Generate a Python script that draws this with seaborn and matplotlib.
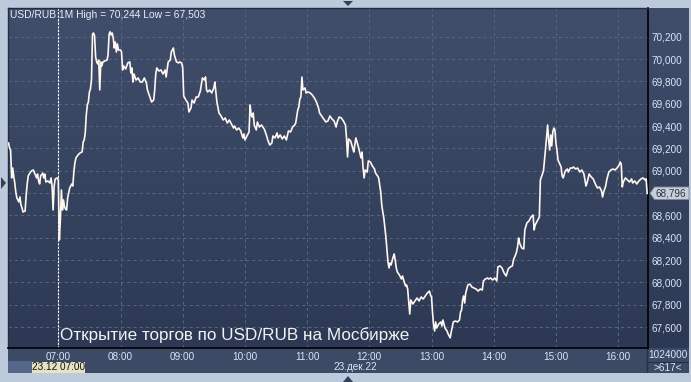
import numpy as np
import matplotlib
matplotlib.use("Agg")
import matplotlib.pyplot as plt
import seaborn as sns
from matplotlib.colors import LinearSegmentedColormap
from matplotlib.patches import Polygon, Rectangle
from matplotlib.ticker import FuncFormatter

# ---------------- data (minutes after 07:00, USD/RUB price) ----------------
minutes = [
    -48, -47, -46, -45, -44, -43, -42, -41, -40, -38,
    -37, -36, -35, -34, -32, -31, -30, -29, -28, -26,
    -24, -23, -22, -21, -20, -19, -18, -17, -15, -14,
    -13, -12, -10, -8, -7, -6, -5, -4, -3, -1,
    0, 1, 2, 3, 4, 5, 6, 7, 8, 9,
    11, 13, 14, 15, 16, 17, 19, 21, 23, 24,
    25, 26, 27, 28, 29, 30, 31, 32, 33, 34,
    35, 36, 37, 38, 39, 40, 41, 42, 43, 45,
    47, 48, 49, 50, 51, 52, 53, 54, 55, 56,
    57, 58, 60, 61, 62, 63, 65, 67, 69, 70,
    71, 72, 73, 75, 77, 79, 81, 83, 85, 86,
    88, 90, 92, 93, 94, 95, 97, 99, 101, 103,
    104, 106, 108, 109, 111, 112, 114, 116, 117, 119,
    120, 121, 123, 125, 126, 128, 129, 131, 133, 135,
    137, 139, 141, 142, 143, 144, 146, 148, 150, 151,
    153, 155, 157, 159, 161, 163, 165, 167, 169, 170,
    172, 174, 176, 178, 179, 180, 182, 184, 185, 186,
    187, 188, 189, 191, 192, 194, 196, 198, 199, 201,
    202, 204, 206, 207, 209, 211, 212, 214, 216, 218,
    220, 222, 224, 226, 228, 229, 231, 232, 233, 234,
    235, 236, 238, 239, 241, 243, 245, 247, 249, 251,
    252, 254, 256, 258, 260, 262, 264, 266, 268, 269,
    271, 273, 275, 277, 278, 279, 280, 282, 284, 285,
    287, 289, 290, 292, 293, 294, 295, 296, 298, 299,
    301, 303, 305, 306, 308, 309, 311, 312, 313, 314,
    315, 316, 317, 318, 319, 320, 321, 323, 324, 325,
    326, 327, 329, 331, 332, 334, 335, 336, 337, 338,
    339, 340, 342, 344, 346, 348, 350, 352, 354, 356,
    358, 359, 360, 361, 362, 363, 364, 365, 367, 369,
    370, 371, 373, 375, 376, 378, 379, 380, 381, 383,
    385, 387, 388, 389, 390, 391, 392, 393, 395, 397,
    399, 401, 403, 405, 407, 409, 410, 412, 414, 415,
    417, 419, 421, 423, 424, 426, 428, 430, 432, 434,
    436, 438, 439, 441, 442, 443, 444, 445, 447, 449,
    450, 452, 454, 456, 458, 459, 460, 462, 464, 465,
    466, 468, 469, 470, 471, 472, 473, 474, 475, 476,
    477, 478, 479, 480, 481, 482, 485, 486, 487, 489,
    491, 492, 494, 496, 497, 499, 501, 503, 505, 507,
    509, 510, 512, 514, 516, 518, 520, 522, 524, 525,
    526, 528, 529, 531, 533, 535, 537, 539, 541, 542,
    543, 544, 545, 547, 549, 551, 553, 554, 556, 558,
    560, 562, 564, 566, 567, 568,
]
prices = [
    69.248, 69.203, 69.185, 68.935, 69.024, 68.953, 68.890, 68.809, 68.756, 68.720,
    68.765, 68.693, 68.666, 68.630, 68.639, 68.782, 68.881, 68.953, 68.970, 68.997,
    69.006, 68.979, 68.961, 68.935, 68.970, 68.908, 68.881, 68.953, 68.979, 68.935,
    68.970, 68.899, 68.908, 68.890, 68.935, 68.863, 68.648, 68.863, 68.926, 68.935,
    68.917, 68.380, 68.559, 68.827, 68.648, 68.738, 68.675, 68.657, 68.648, 68.756,
    68.845, 68.881, 68.863, 68.988, 69.069, 69.114, 69.141, 69.159, 69.168, 69.257,
    69.275, 69.338, 69.499, 69.589, 69.615, 69.705, 69.732, 69.812, 70.224, 70.233,
    70.207, 70.018, 69.974, 69.956, 69.991, 69.723, 69.974, 69.938, 69.974, 69.983,
    69.991, 70.036, 70.224, 70.244, 70.215, 70.233, 70.189, 70.099, 70.153, 70.063,
    70.135, 70.081, 70.081, 70.063, 69.902, 69.938, 69.911, 69.965, 69.974, 69.875,
    69.920, 69.794, 69.866, 69.812, 69.830, 69.794, 69.794, 69.830, 69.785, 69.723,
    69.669, 69.615, 69.633, 69.723, 69.866, 69.920, 69.893, 69.902, 69.866, 69.902,
    69.839, 69.974, 69.991, 70.063, 70.099, 70.036, 69.974, 69.965, 69.974, 69.965,
    69.920, 69.669, 69.633, 69.606, 69.526, 69.562, 69.633, 69.606, 69.660, 69.660,
    69.714, 69.830, 69.812, 69.839, 69.723, 69.705, 69.723, 69.696, 69.741, 69.794,
    69.615, 69.517, 69.490, 69.454, 69.472, 69.427, 69.454, 69.418, 69.382, 69.400,
    69.365, 69.382, 69.356, 69.293, 69.329, 69.275, 69.311, 69.347, 69.589, 69.499,
    69.481, 69.517, 69.409, 69.365, 69.436, 69.391, 69.409, 69.382, 69.365, 69.311,
    69.275, 69.230, 69.248, 69.311, 69.293, 69.338, 69.293, 69.320, 69.284, 69.311,
    69.275, 69.356, 69.347, 69.391, 69.409, 69.427, 69.544, 69.571, 69.642, 69.660,
    69.839, 69.723, 69.741, 69.696, 69.705, 69.696, 69.678, 69.651, 69.615, 69.562,
    69.517, 69.490, 69.463, 69.436, 69.445, 69.490, 69.463, 69.445, 69.391, 69.436,
    69.481, 69.472, 69.445, 69.409, 69.293, 69.123, 69.284, 69.266, 69.203, 69.167,
    69.293, 69.230, 69.194, 69.114, 69.167, 69.024, 68.935, 69.006, 68.988, 69.087,
    69.078, 69.042, 69.015, 68.979, 68.953, 68.935, 68.809, 68.693, 68.630, 68.576,
    68.487, 68.406, 68.290, 68.182, 68.129, 68.173, 68.156, 68.227, 68.254, 68.200,
    68.129, 68.093, 68.066, 68.030, 68.057, 67.994, 67.967, 67.976, 67.940, 67.824,
    67.716, 67.842, 67.806, 67.833, 67.860, 67.833, 67.869, 67.851, 67.878, 67.905,
    67.922, 67.887, 67.869, 67.726, 67.618, 67.564, 67.645, 67.591, 67.627, 67.645,
    67.609, 67.663, 67.591, 67.564, 67.538, 67.503, 67.555, 67.600, 67.645, 67.654,
    67.645, 67.663, 67.734, 67.752, 67.842, 67.878, 67.815, 67.905, 67.976, 67.985,
    67.958, 67.949, 67.940, 67.922, 67.940, 67.931, 68.012, 68.030, 68.039, 68.030,
    68.039, 68.021, 68.039, 68.012, 68.138, 68.147, 68.129, 68.084, 68.057, 68.120,
    68.138, 68.147, 68.200, 68.245, 68.272, 68.317, 68.397, 68.352, 68.308, 68.299,
    68.469, 68.532, 68.550, 68.585, 68.603, 68.469, 68.514, 68.550, 68.585, 68.917,
    68.944, 68.997, 69.096, 69.185, 69.300, 69.409, 69.275, 69.185, 69.320, 69.221,
    69.347, 69.382, 69.365, 69.248, 69.185, 69.096, 69.033, 68.953, 68.935, 68.997,
    69.015, 68.988, 69.024, 69.024, 69.033, 69.015, 69.024, 68.988, 69.006, 68.970,
    68.863, 68.890, 68.970, 68.944, 68.926, 68.881, 68.845, 68.854, 68.818, 68.764,
    68.809, 68.863, 68.917, 68.988, 69.006, 69.015, 69.006, 69.024, 69.051, 69.078,
    69.060, 68.854, 68.899, 68.935, 68.917, 68.899, 68.926, 68.890, 68.908, 68.881,
    68.908, 68.926, 68.935, 68.917, 68.926, 68.796,
]
price_ticks = [67.6, 67.8, 68.0, 68.2, 68.4, 68.6, 68.8, 69.0, 69.2, 69.4, 69.6, 69.8, 70.0, 70.2]
hour_ticks = [0, 60, 120, 180, 240, 300, 360, 420, 480, 540]
hour_labels = ["07:00", "08:00", "09:00", "10:00", "11:00", "12:00", "13:00", "14:00", "15:00", "16:00"]
title_text = "USD/RUB 1M High = 70,244 Low = 67,503"
caption_text = "Открытие торгов по USD/RUB на Мосбирже"
last_price = 68.796
last_label = "68,796"
date_label = "23.дек.22"
cursor_label = "23.12 07:00"
volume_label = "1024000"
bars_label = ">617<"

# ---------------- layout ----------------
plt.rcParams['font.family'] = ['Liberation Sans', 'DejaVu Sans']
W, H = 691, 382
fig = plt.figure(figsize=(W / 100, H / 100), dpi=100)
fig.patch.set_facecolor('#bccadb')

def fx(px):
    return px / W

def fy(py):
    return 1 - py / H

L, R, T, B = 8, 648, 8, 348
XMIN, XMAX = -48.52, 568.82
YMIN, YMAX = 67.412, 70.457

grad = LinearSegmentedColormap.from_list('g', ['#404e6b', '#2d3954'])

# bottom time panel
axb = fig.add_axes([fx(L), fy(373), fx(646 - L), (373 - B) / H])
axb.set_facecolor('#3c4a66')
axb.set_xticks([]); axb.set_yticks([])
for s in axb.spines.values():
    s.set_visible(False)
axb.add_patch(Rectangle((0, 0), 24 / (646 - L), 12 / 25, transform=axb.transAxes,
                        color='#56668a', lw=0))

# right price panel
axr = fig.add_axes([fx(R), fy(B), fx(689 - R), (B - T) / H])
axr.imshow(np.linspace(0, 1, 256)[:, None], aspect='auto', cmap=grad,
           extent=[0, 1, 0, 1], origin='upper')
axr.set_xticks([]); axr.set_yticks([])
for s in axr.spines.values():
    s.set_visible(False)

# bottom-right info box
axi = fig.add_axes([fx(646), fy(373), fx(689 - 646), (373 - B) / H])
axi.set_facecolor('#3c4a66')
axi.set_xticks([]); axi.set_yticks([])
for s in axi.spines.values():
    s.set_visible(False)
axi.axhline(0.46, color='#25304a', lw=0.8)
axi.axvline(0.02, color='#25304a', lw=1.0)

# main chart
ax = fig.add_axes([fx(L), fy(B), fx(R - L), (B - T) / H])
ax.imshow(np.linspace(0, 1, 256)[:, None], aspect='auto', cmap=grad,
          extent=[XMIN, XMAX, YMIN, YMAX], origin='upper', zorder=0)
sns.lineplot(x=minutes, y=prices, ax=ax, estimator=None, sort=False,
             color='#fff6ef', lw=1.2, zorder=3)
ax.axvline(0, color='#ffffff', lw=0.8, ls=(0, (2, 1.2)), zorder=2)
ax.set_xlim(XMIN, XMAX)
ax.set_ylim(YMIN, YMAX)
ax.set_xticks(hour_ticks)
ax.set_xticklabels(hour_labels)
ax.set_yticks(price_ticks)


def price_fmt(v, pos):
    # the tick next to the last-price tag is hidden behind it in the original
    if abs(v - last_price) < 0.05:
        return ''
    return f"{v:.3f}".replace('.', ',')


ax.yaxis.set_major_formatter(FuncFormatter(price_fmt))
ax.yaxis.tick_right()
ax.grid(True, color='#56657f', lw=0.75, ls=(0, (3, 3)), zorder=1)
ax.set_axisbelow(True)
ax.tick_params(axis='y', length=0, pad=2.4, labelsize=7.2, labelcolor='#d8e6f8')
ax.tick_params(axis='x', length=0, pad=2.6, labelsize=7.2, labelcolor='#d8e6f8')
ax.set_xlabel(''); ax.set_ylabel('')
for side in ['top', 'left']:
    ax.spines[side].set_color('#232c42'); ax.spines[side].set_linewidth(1.0)
for side in ['right', 'bottom']:
    ax.spines[side].set_color('#000000'); ax.spines[side].set_linewidth(1.2)

# texts
fig.text(fx(10), fy(15), title_text, fontsize=7.4, color='#e6eef9', va='center', ha='left')
fig.text(fx(60), fy(335), caption_text, fontsize=12.3, color='#f2f2f2', va='center', ha='left')
fig.text(fx(355), fy(366.5), date_label, fontsize=7.2, color='#d8e6f8', va='center', ha='center')
fig.text(fx(667.5), fy(355), volume_label, fontsize=7.2, color='#d8e6f8', va='center', ha='center')
fig.text(fx(667.5), fy(368), bars_label, fontsize=7.2, color='#d8e6f8', va='center', ha='center')

# cursor date box
fig.patches.append(Rectangle((fx(32), fy(372.5)), fx(53), 11 / H, transform=fig.transFigure,
                             facecolor='#e6e2c4', edgecolor='none', zorder=5))
fig.text(fx(58.5), fy(366.8), cursor_label, fontsize=7.2, color='#111111', va='center', ha='center', zorder=6)

# last price tag
ty = fy(193.3)
tag = Polygon([(fx(650), ty), (fx(654.5), fy(187)), (fx(689), fy(187)), (fx(689), fy(199.5)), (fx(654.5), fy(199.5))],
              closed=True, transform=fig.transFigure, facecolor='#c9cdd4', edgecolor='#7d889c', lw=0.6, zorder=5)
fig.patches.append(tag)
fig.text(fx(656), ty, last_label, fontsize=7.2, color='#2a3450', va='center', ha='left', zorder=6)

# navigation triangles
tri_col = '#34405a'
fig.patches.append(Polygon([(fx(343), fy(1)), (fx(353), fy(1)), (fx(348), fy(6))], closed=True,
                           transform=fig.transFigure, facecolor=tri_col, edgecolor='none', zorder=5))
fig.patches.append(Polygon([(fx(1), fy(177)), (fx(1), fy(189)), (fx(6), fy(183))], closed=True,
                           transform=fig.transFigure, facecolor=tri_col, edgecolor='none', zorder=5))
fig.patches.append(Polygon([(fx(343), fy(382)), (fx(353), fy(382)), (fx(348), fy(376))], closed=True,
                           transform=fig.transFigure, facecolor=tri_col, edgecolor='none', zorder=5))

fig.savefig('out.png', dpi=100, facecolor=fig.get_facecolor())
